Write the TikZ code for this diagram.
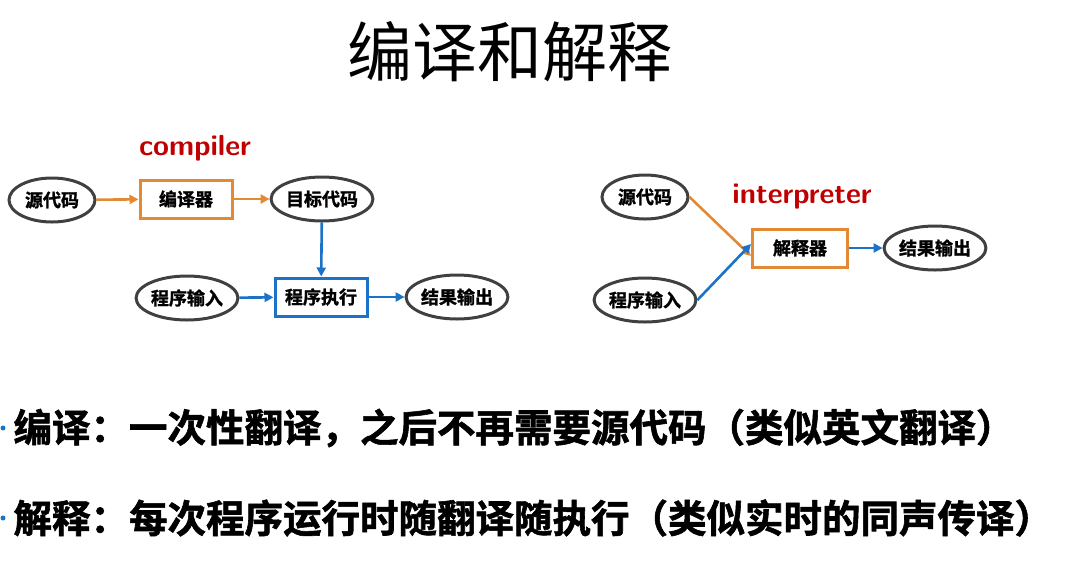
\documentclass[tikz,border=0pt]{standalone}
\usepackage{fontspec}
\newfontfamily\cjk{Noto Sans CJK SC}
\newfontfamily\cjkb[FakeBold=1.5]{Noto Sans CJK SC Bold}
\usetikzlibrary{shapes.geometric,arrows.meta,positioning}
\definecolor{corange}{RGB}{226,137,52}
\definecolor{cblue}{RGB}{26,115,200}
\definecolor{cred}{RGB}{192,0,0}
\tikzset{
  oval/.style={draw=black!75, ellipse, line width=3pt, minimum width=86pt, minimum height=44pt, inner sep=0pt, font=\cjkb\fontsize{18}{18}\selectfont},
  stage/.style={draw, rectangle, line width=3pt, minimum width=92pt, minimum height=38pt, font=\cjkb\fontsize{18}{18}\selectfont},
  flow/.style={->, line width=2.6pt, >={Triangle[length=9pt,width=9pt]}},
  point/.style={font=\cjkb\fontsize{38.5}{38.5}\selectfont, anchor=west}
}
\begin{document}
\begin{tikzpicture}[x=1pt,y=-1pt]
\useasboundingbox (0,0) rectangle (1068,566);
\node[font=\cjk\fontsize{65}{65}\selectfont] (title) at (510,52) {编译和解释};
% compiler
\node[font=\sffamily\bfseries\fontsize{29}{29}\selectfont, text=cred] (comp) at (195,148) {compiler};
\node[oval] (src) at (52,200) {源代码};
\node[stage, draw=corange] (compiler) at (186,199) {编译器};
\node[oval] (obj) at (322,199) {目标代码};
\node[oval] (in) at (187,298) {程序输入};
\node[stage, draw=cblue] (exec) at (321,297) {程序执行};
\node[oval, minimum width=82pt] (out) at (457,297) {结果输出};
\draw[flow, corange] (src) -- (compiler);
\draw[flow, corange] (compiler) -- (obj);
\draw[flow, cblue] (obj) -- (exec);
\draw[flow, cblue] (in) -- (exec);
\draw[flow, cblue] (exec) -- (out);
% interpreter
\node[font=\sffamily\bfseries\fontsize{29}{29}\selectfont, text=cred] (interp) at (802,197) {interpreter};
\node[oval] (src2) at (645,197) {源代码};
\node[oval] (in2) at (645,300) {程序输入};
\node[stage, draw=corange, minimum width=95pt] (interpreter) at (800,248) {解释器};
\node[oval, minimum width=82pt] (out2) at (935,248) {结果输出};
\draw[flow, corange] (src2.east) -- ([yshift=-8pt]interpreter.west);
\draw[flow, cblue] (in2.east) -- ([yshift=4pt]interpreter.west);
\draw[flow, cblue] (interpreter) -- (out2);
% bullets
\fill[cblue] (3,428) circle (2.5pt);
\fill[cblue] (3,518) circle (2.5pt);
\node[point] (p1) at (10,428) {编译：一次性翻译，之后不再需要源代码（类似英文翻译）};
\node[point] (p2) at (10,518) {解释：每次程序运行时随翻译随执行（类似实时的同声传译）};
\end{tikzpicture}
\end{document}
